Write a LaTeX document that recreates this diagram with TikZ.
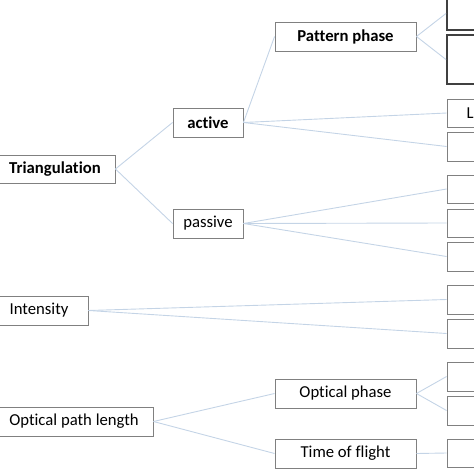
\documentclass[tikz,border=0pt]{standalone}
\usepackage{fontspec}
\setmainfont[Ligatures=NoCommon]{Carlito}
\definecolor{linkc}{RGB}{196,212,230}
\begin{document}
\begin{tikzpicture}[x=1pt,y=-1pt,
  box/.style={draw=black!50, line width=0.9pt, inner sep=0pt, font=\fontsize{16.7}{18}\selectfont},
  bbox/.style={box, font=\fontsize{16.7}{18}\selectfont\bfseries},
  thickbox/.style={draw=black!75, line width=2pt, inner sep=0pt},
  link/.style={draw=linkc, line width=0.9pt}]
\useasboundingbox (0,0) rectangle (474,474);
\clip (0,0) rectangle (474,474);
% left/middle nodes
\node[bbox, minimum width=120pt, minimum height=28pt] (tri) at (55,169) {Triangulation};
\node[bbox, minimum width=70pt, minimum height=29pt] (act) at (208,122.5) {active};
\node[bbox, minimum width=141pt, minimum height=29pt] (pat) at (345.5,36.5) {Pattern phase};
\node[box, minimum width=70pt, minimum height=29pt] (pas) at (208,223.5) {passive};
\node[box, minimum width=98pt, minimum height=29pt] (int) at (39,310.5) {Intensity};
\node[box, minimum width=158pt, minimum height=29pt] (opl) at (74,421.5) {Optical path length};
\node[box, minimum width=141pt, minimum height=29pt] (oph) at (345.5,393.5) {Optical phase};
\node[box, minimum width=141pt, minimum height=29pt] (tof) at (345.5,453.5) {Time of flight};
% right column
\node[thickbox, minimum width=53pt, minimum height=33pt] (r1) at (473.5,13.5) {};
\node[thickbox, minimum width=53pt, minimum height=49pt] (r2) at (473.5,59.5) {};
\node[box, minimum width=53pt, minimum height=28pt] (r3) at (473.5,113) {};
\node[box, minimum width=53pt, minimum height=29pt] (r4) at (473.5,146.5) {};
\node[box, minimum width=53pt, minimum height=28pt] (r5) at (473.5,189) {};
\node[box, minimum width=53pt, minimum height=28pt] (r6) at (473.5,223) {};
\node[box, minimum width=53pt, minimum height=29pt] (r7) at (473.5,256.5) {};
\node[box, minimum width=53pt, minimum height=29pt] (r8) at (473.5,299.5) {};
\node[box, minimum width=53pt, minimum height=29pt] (r9) at (473.5,333.5) {};
\node[box, minimum width=53pt, minimum height=29pt] (r10) at (473.5,376.5) {};
\node[box, minimum width=53pt, minimum height=29pt] (r11) at (473.5,410.5) {};
\node[box, minimum width=53pt, minimum height=28pt] (r12) at (473.5,453) {};
\node[inner sep=0pt, anchor=west, font=\fontsize{16.7}{18}\selectfont] (lt) at (466.5,113) {L};
% connectors
\draw[link] (tri.east) -- (act.west);
\draw[link] (tri.east) -- (pas.west);
\draw[link] (act.east) -- (pat.west);
\draw[link] (act.east) -- (r3.west);
\draw[link] (act.east) -- (r4.west);
\draw[link] (pat.east) -- (r1.west);
\draw[link] (pat.east) -- (r2.west);
\draw[link] (pas.east) -- (r5.west);
\draw[link] (pas.east) -- (r6.west);
\draw[link] (pas.east) -- (r7.west);
\draw[link] (int.east) -- (r8.west);
\draw[link] (int.east) -- (r9.west);
\draw[link] (opl.east) -- (oph.west);
\draw[link] (opl.east) -- (tof.west);
\draw[link] (oph.east) -- (r10.west);
\draw[link] (oph.east) -- (r11.west);
\draw[link] (tof.east) -- (r12.west);
\end{tikzpicture}
\end{document}
